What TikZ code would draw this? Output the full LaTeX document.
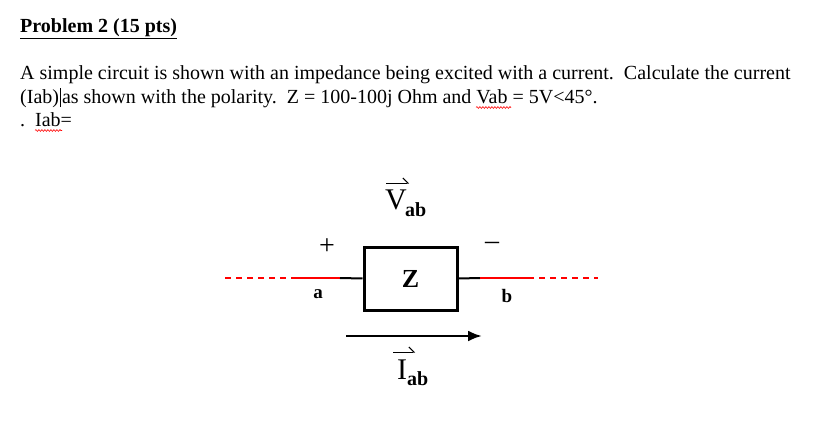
\documentclass[tikz,border=0pt]{standalone}
\usepackage{fontspec}
\setmainfont{Liberation Serif}
\usetikzlibrary{arrows.meta,decorations.pathmorphing}
\begin{document}
\begin{tikzpicture}[x=1pt,y=-1pt,
  body/.style={anchor=base west,inner sep=0pt,font=\fontsize{20}{22}\selectfont},
  lbl/.style={inner sep=0pt,font=\bfseries\fontsize{19}{20}\selectfont},
  redw/.style={red,line width=2.6pt},
  wavy/.style={red,line width=0.6pt,decorate,decoration={snake,amplitude=0.9pt,segment length=3pt}}]
\useasboundingbox (0,0) rectangle (836,428);
\node[body,font=\bfseries\fontsize{20}{22}\selectfont] (title) at (20,33) {\underline{Problem 2 (15 pts)}};
\node[body] (l1) at (20,80) {A simple circuit is shown with an impedance being excited with a current.\ \ Calculate the current};
\node[body] (l2) at (20,103) {(Iab)\kern1pt\rule[-4pt]{1pt}{19pt}\kern1pt as shown with the polarity.\ \ Z = 100-100j Ohm and Vab = 5V<45°.};
\node[body] (l3) at (20,126) {.\ \ Iab=};
\draw[wavy] (35,130.5) -- (62,130.5);
\draw[wavy] (476,107.5) -- (511,107.5);
% circuit
\node[draw,line width=3pt,minimum width=93pt,minimum height=63pt,inner sep=0pt,font=\bfseries\fontsize{26}{26}\selectfont] (Z) at (410.5,278.5) {Z};
\coordinate (la) at (225,278); \coordinate (lb) at (292,278); \coordinate (lc) at (340,278);
\coordinate (rc) at (480,278); \coordinate (rb) at (528,278); \coordinate (ra) at (598,278);
\draw[redw,dash pattern=on 6pt off 5pt] (la) -- (lb);
\draw[redw] (lb) -- (lc);
\draw[line width=2pt] (lc) -- (Z.west);
\draw[line width=2pt] (Z.east) -- (rc);
\draw[redw] (rc) -- (rb);
\draw[redw,dash pattern=on 6pt off 5pt] (rb) -- (ra);
\node[lbl] (a) at (318,294) {a};
\node[lbl] (b) at (507,296) {b};
\node[inner sep=0pt,font=\fontsize{28}{28}\selectfont] (plus) at (327,247) {+};
\node[inner sep=0pt,font=\fontsize{28}{28}\selectfont] (minus) at (492,246) {\textendash};
\node[inner sep=0pt,font=\fontsize{30}{30}\selectfont] (V) at (396,200) {V};
\node[inner sep=0pt,anchor=west,font=\bfseries\fontsize{20}{20}\selectfont] (Vs) at (405,210) {ab};
\draw[line width=1pt,-{Straight Barb[left,length=5pt]}] (386,183) -- (409,183);
\coordinate (i1) at (346,336); \coordinate (i2) at (482,336);
\draw[line width=2.6pt,-{Latex[length=14pt,width=11pt]}] (i1) -- (i2);
\node[inner sep=0pt,font=\fontsize{30}{30}\selectfont] (I) at (402,370) {I};
\node[inner sep=0pt,anchor=west,font=\bfseries\fontsize{20}{20}\selectfont] (Is) at (407,379) {ab};
\draw[line width=1pt,-{Straight Barb[left,length=5pt]}] (393,352) -- (415,352);
\end{tikzpicture}
\end{document}
